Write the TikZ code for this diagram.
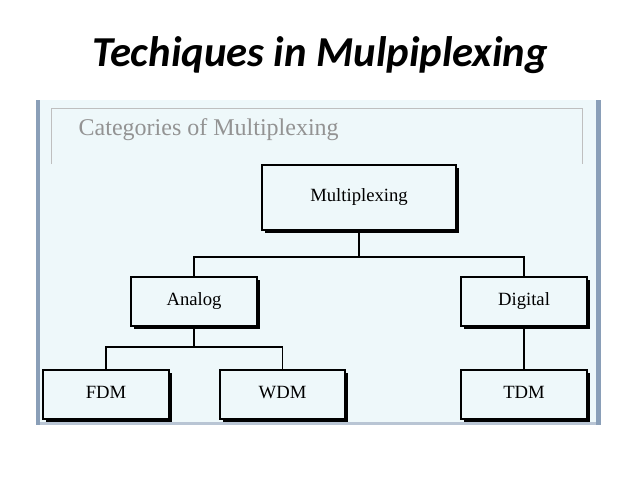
\documentclass[tikz,border=0pt]{standalone}
\usepackage{fontspec}
\setmainfont{Liberation Serif}
\newfontfamily\titlefont{Carlito}
\begin{document}
\begin{tikzpicture}[x=0.75pt,y=-0.75pt,
  bx/.style={draw=black,line width=0.8pt,fill=panel,inner sep=0pt,text height=1.6ex,text depth=0.4ex,font=\fontsize{14}{16}\selectfont},
  ln/.style={line width=1pt}]
\definecolor{panel}{HTML}{EEF8FA}
\definecolor{edge}{HTML}{8A9FB8}
\useasboundingbox (0,0) rectangle (638,479);
\fill[white] (0,0) rectangle (638,479);
\node[font=\titlefont\bfseries\itshape\fontsize{32}{36}\selectfont] (title) at (320,55) {Techiques in Mulpiplexing};
\fill[panel] (38,100) rectangle (600,425);
\fill[edge] (36,100) rectangle (40,425);
\fill[edge] (596,100) rectangle (601,425);
\fill[edge!60] (40,422) rectangle (596,425);
\draw[gray!50,line width=0.6pt] (51,164) -- (51,108) -- (582,108) -- (582,164);
\node[anchor=base west,text=gray!85,font=\fontsize{18}{20}\selectfont] (cat) at (74,135) {Categories of Multiplexing};
\newcommand\mybox[6]{%
  \fill[black] (#2+3,#3+3) rectangle (#4+3,#5+3);
  \node[bx,minimum width=(#4-#2)*0.75pt,minimum height=(#5-#3)*0.75pt] (#1) at ({(#2+#4)/2},{(#3+#5)/2}) {#6};}
\mybox{mux}{262}{165}{456}{230}{Multiplexing}
\mybox{ana}{131}{277}{257}{326}{Analog}
\mybox{dig}{461}{277}{587}{326}{Digital}
\mybox{fdm}{43}{370}{169}{419}{FDM}
\mybox{wdm}{220}{370}{345}{419}{WDM}
\mybox{tdm}{461}{370}{587}{419}{TDM}
\coordinate (b1) at (359,257);
\coordinate (b2) at (194,347);
\draw[ln] (mux.south) -- (b1);
\draw[ln] (ana.north) |- (b1) -| (dig.north);
\draw[ln] (ana.south) -- (ana.south |- b2);
\draw[ln] (fdm.north) |- (b2) -| (wdm.north);
\draw[ln] (dig.south) -- (tdm.north);
\end{tikzpicture}
\end{document}
